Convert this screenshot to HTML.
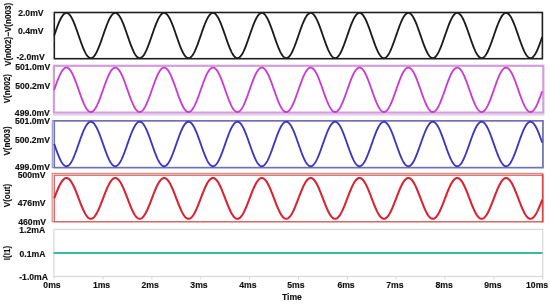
<!DOCTYPE html>
<html><head><meta charset="utf-8"><style>
html,body{margin:0;padding:0;background:#fff;width:550px;height:304px;overflow:hidden}
svg{display:block}
.t{font-family:"Liberation Sans",Arial,sans-serif;font-weight:bold;font-size:8.65px;fill:#111;stroke:#111;stroke-width:0.15px}
.r{font-size:8.65px}
</style></head><body>
<svg width="550" height="304" viewBox="0 0 550 304">
<rect width="550" height="304" fill="#fff"/>
<g>
<rect x="54.3" y="12.5" width="488.1" height="46.2" fill="none" stroke="#1e1e1e" stroke-width="1.6"/>
<rect x="53.9" y="65.8" width="489.4" height="46.8" fill="none" stroke="#d49ddc" stroke-width="2.2"/>
<line x1="53" y1="114.8" x2="544.5" y2="114.8" stroke="#dcc2e6" stroke-width="1.2"/>
<rect x="52.3" y="120.8" width="490.6" height="46.8" fill="none" stroke="#9a9ad0" stroke-width="1.2"/>
<rect x="54.3" y="120.8" width="488.6" height="46.8" fill="none" stroke="#7070b4" stroke-width="1.6"/>
<rect x="52.2" y="173.4" width="490.5" height="48.3" fill="none" stroke="#dc8a8a" stroke-width="1.2"/>
<rect x="54.3" y="175.2" width="488.4" height="46.5" fill="none" stroke="#d86a6a" stroke-width="1.4"/>
<line x1="542.6" y1="174" x2="542.6" y2="222.4" stroke="#d84444" stroke-width="1.5"/>
<rect x="53.9" y="229.4" width="488.8" height="47.1" fill="none" stroke="#dadada" stroke-width="1.3"/>
<line x1="51.3" y1="12.50" x2="53.5" y2="12.50" stroke="#e2e2e2" stroke-width="1"/>
<line x1="51.3" y1="21.74" x2="53.5" y2="21.74" stroke="#e2e2e2" stroke-width="1"/>
<line x1="51.3" y1="30.98" x2="53.5" y2="30.98" stroke="#e2e2e2" stroke-width="1"/>
<line x1="51.3" y1="40.22" x2="53.5" y2="40.22" stroke="#e2e2e2" stroke-width="1"/>
<line x1="51.3" y1="49.46" x2="53.5" y2="49.46" stroke="#e2e2e2" stroke-width="1"/>
<line x1="51.3" y1="58.70" x2="53.5" y2="58.70" stroke="#e2e2e2" stroke-width="1"/>
<line x1="54.20" y1="276.5" x2="54.20" y2="279.5" stroke="#d6d6d6" stroke-width="1"/>
<line x1="103.05" y1="276.5" x2="103.05" y2="279.5" stroke="#d6d6d6" stroke-width="1"/>
<line x1="151.90" y1="276.5" x2="151.90" y2="279.5" stroke="#d6d6d6" stroke-width="1"/>
<line x1="200.75" y1="276.5" x2="200.75" y2="279.5" stroke="#d6d6d6" stroke-width="1"/>
<line x1="249.60" y1="276.5" x2="249.60" y2="279.5" stroke="#d6d6d6" stroke-width="1"/>
<line x1="298.45" y1="276.5" x2="298.45" y2="279.5" stroke="#d6d6d6" stroke-width="1"/>
<line x1="347.30" y1="276.5" x2="347.30" y2="279.5" stroke="#d6d6d6" stroke-width="1"/>
<line x1="396.15" y1="276.5" x2="396.15" y2="279.5" stroke="#d6d6d6" stroke-width="1"/>
<line x1="445.00" y1="276.5" x2="445.00" y2="279.5" stroke="#d6d6d6" stroke-width="1"/>
<line x1="493.85" y1="276.5" x2="493.85" y2="279.5" stroke="#d6d6d6" stroke-width="1"/>
<line x1="542.70" y1="276.5" x2="542.70" y2="279.5" stroke="#d6d6d6" stroke-width="1"/>
<path d="M54.20,35.50 L54.70,34.05 L55.20,32.60 L55.70,31.17 L56.20,29.75 L56.70,28.36 L57.20,26.99 L57.70,25.67 L58.20,24.38 L58.70,23.14 L59.20,21.95 L59.70,20.81 L60.20,19.74 L60.70,18.73 L61.20,17.79 L61.70,16.93 L62.20,16.14 L62.70,15.43 L63.20,14.80 L63.70,14.26 L64.20,13.81 L64.70,13.45 L65.20,13.17 L65.70,12.99 L66.20,12.91 L66.70,12.92 L67.20,13.02 L67.70,13.21 L68.20,13.49 L68.70,13.87 L69.20,14.34 L69.70,14.89 L70.20,15.53 L70.70,16.25 L71.20,17.05 L71.70,17.93 L72.20,18.88 L72.70,19.90 L73.20,20.98 L73.70,22.12 L74.20,23.32 L74.70,24.57 L75.20,25.86 L75.70,27.20 L76.20,28.56 L76.70,29.96 L77.20,31.38 L77.70,32.82 L78.20,34.27 L78.70,35.72 L79.20,37.17 L79.70,38.61 L80.20,40.05 L80.70,41.46 L81.20,42.85 L81.70,44.21 L82.20,45.53 L82.70,46.81 L83.20,48.04 L83.70,49.23 L84.20,50.35 L84.70,51.42 L85.20,52.41 L85.70,53.34 L86.20,54.20 L86.70,54.97 L87.20,55.67 L87.70,56.28 L88.20,56.81 L88.70,57.25 L89.20,57.60 L89.70,57.86 L90.20,58.02 L90.70,58.10 L91.20,58.08 L91.70,57.96 L92.20,57.75 L92.70,57.45 L93.20,57.06 L93.70,56.59 L94.20,56.02 L94.70,55.37 L95.20,54.63 L95.70,53.82 L96.20,52.93 L96.70,51.97 L97.20,50.95 L97.70,49.85 L98.20,48.70 L98.70,47.50 L99.20,46.24 L99.70,44.94 L100.20,43.60 L100.70,42.23 L101.20,40.83 L101.70,39.40 L102.20,37.97 L102.70,36.52 L103.20,35.06 L103.70,33.61 L104.20,32.17 L104.70,30.74 L105.20,29.33 L105.70,27.95 L106.20,26.59 L106.70,25.28 L107.20,24.00 L107.70,22.77 L108.20,21.60 L108.70,20.48 L109.20,19.43 L109.70,18.44 L110.20,17.52 L110.70,16.68 L111.20,15.92 L111.70,15.23 L112.20,14.63 L112.70,14.12 L113.20,13.69 L113.70,13.35 L114.20,13.11 L114.70,12.96 L115.20,12.90 L115.70,12.94 L116.20,13.06 L116.70,13.29 L117.20,13.60 L117.70,14.00 L118.20,14.49 L118.70,15.07 L119.20,15.74 L119.70,16.48 L120.20,17.31 L120.70,18.21 L121.20,19.18 L121.70,20.21 L122.20,21.32 L122.70,22.48 L123.20,23.69 L123.70,24.95 L124.20,26.26 L124.70,27.60 L125.20,28.98 L125.70,30.39 L126.20,31.81 L126.70,33.25 L127.20,34.70 L127.70,36.15 L128.20,37.60 L128.70,39.05 L129.20,40.47 L129.70,41.88 L130.20,43.26 L130.70,44.61 L131.20,45.92 L131.70,47.19 L132.20,48.40 L132.70,49.57 L133.20,50.68 L133.70,51.72 L134.20,52.70 L134.70,53.61 L135.20,54.44 L135.70,55.19 L136.20,55.86 L136.70,56.45 L137.20,56.95 L137.70,57.37 L138.20,57.69 L138.70,57.92 L139.20,58.06 L139.70,58.10 L140.20,58.05 L140.70,57.91 L141.20,57.67 L141.70,57.35 L142.20,56.93 L142.70,56.42 L143.20,55.83 L143.70,55.16 L144.20,54.40 L144.70,53.56 L145.20,52.65 L145.70,51.67 L146.20,50.62 L146.70,49.51 L147.20,48.35 L147.70,47.12 L148.20,45.85 L148.70,44.54 L149.20,43.19 L149.70,41.81 L150.20,40.40 L150.70,38.97 L151.20,37.53 L151.70,36.08 L152.20,34.63 L152.70,33.18 L153.20,31.74 L153.70,30.31 L154.20,28.91 L154.70,27.54 L155.20,26.19 L155.70,24.89 L156.20,23.63 L156.70,22.42 L157.20,21.26 L157.70,20.16 L158.20,19.13 L158.70,18.16 L159.20,17.26 L159.70,16.44 L160.20,15.70 L160.70,15.04 L161.20,14.47 L161.70,13.98 L162.20,13.58 L162.70,13.27 L163.20,13.06 L163.70,12.93 L164.20,12.90 L164.70,12.96 L165.20,13.12 L165.70,13.37 L166.20,13.71 L166.70,14.14 L167.20,14.66 L167.70,15.26 L168.20,15.95 L168.70,16.72 L169.20,17.57 L169.70,18.49 L170.20,19.48 L170.70,20.54 L171.20,21.66 L171.70,22.83 L172.20,24.06 L172.70,25.34 L173.20,26.66 L173.70,28.01 L174.20,29.40 L174.70,30.81 L175.20,32.24 L175.70,33.69 L176.20,35.14 L176.70,36.59 L177.20,38.04 L177.70,39.48 L178.20,40.90 L178.70,42.30 L179.20,43.67 L179.70,45.01 L180.20,46.30 L180.70,47.56 L181.20,48.76 L181.70,49.91 L182.20,51.00 L182.70,52.02 L183.20,52.98 L183.70,53.86 L184.20,54.67 L184.70,55.40 L185.20,56.05 L185.70,56.61 L186.20,57.09 L186.70,57.47 L187.20,57.77 L187.70,57.97 L188.20,58.08 L188.70,58.10 L189.20,58.02 L189.70,57.85 L190.20,57.59 L190.70,57.23 L191.20,56.79 L191.70,56.26 L192.20,55.64 L192.70,54.94 L193.20,54.16 L193.70,53.30 L194.20,52.37 L194.70,51.36 L195.20,50.30 L195.70,49.17 L196.20,47.98 L196.70,46.75 L197.20,45.46 L197.70,44.14 L198.20,42.78 L198.70,41.39 L199.20,39.98 L199.70,38.54 L200.20,37.10 L200.70,35.65 L201.20,34.19 L201.70,32.75 L202.20,31.31 L202.70,29.89 L203.20,28.50 L203.70,27.13 L204.20,25.80 L204.70,24.51 L205.20,23.26 L205.70,22.06 L206.20,20.92 L206.70,19.84 L207.20,18.83 L207.70,17.88 L208.20,17.01 L208.70,16.21 L209.20,15.50 L209.70,14.86 L210.20,14.31 L210.70,13.85 L211.20,13.48 L211.70,13.20 L212.20,13.01 L212.70,12.91 L213.20,12.91 L213.70,13.00 L214.20,13.19 L214.70,13.46 L215.20,13.83 L215.70,14.29 L216.20,14.83 L216.70,15.46 L217.20,16.17 L217.70,16.97 L218.20,17.84 L218.70,18.78 L219.20,19.79 L219.70,20.87 L220.20,22.01 L220.70,23.20 L221.20,24.44 L221.70,25.73 L222.20,27.06 L222.70,28.43 L223.20,29.82 L223.70,31.24 L224.20,32.67 L224.70,34.12 L225.20,35.57 L225.70,37.02 L226.20,38.47 L226.70,39.90 L227.20,41.32 L227.70,42.71 L228.20,44.07 L228.70,45.40 L229.20,46.68 L229.70,47.92 L230.20,49.11 L230.70,50.24 L231.20,51.31 L231.70,52.32 L232.20,53.25 L232.70,54.12 L233.20,54.90 L233.70,55.61 L234.20,56.23 L234.70,56.76 L235.20,57.21 L235.70,57.57 L236.20,57.84 L236.70,58.01 L237.20,58.09 L237.70,58.08 L238.20,57.98 L238.70,57.78 L239.20,57.49 L239.70,57.11 L240.20,56.64 L240.70,56.08 L241.20,55.44 L241.70,54.71 L242.20,53.91 L242.70,53.03 L243.20,52.07 L243.70,51.05 L244.20,49.97 L244.70,48.82 L245.20,47.62 L245.70,46.37 L246.20,45.07 L246.70,43.74 L247.20,42.37 L247.70,40.97 L248.20,39.55 L248.70,38.11 L249.20,36.66 L249.70,35.21 L250.20,33.76 L250.70,32.31 L251.20,30.88 L251.70,29.47 L252.20,28.08 L252.70,26.73 L253.20,25.41 L253.70,24.13 L254.20,22.90 L254.70,21.72 L255.20,20.59 L255.70,19.53 L256.20,18.54 L256.70,17.61 L257.20,16.76 L257.70,15.99 L258.20,15.30 L258.70,14.69 L259.20,14.16 L259.70,13.73 L260.20,13.38 L260.70,13.13 L261.20,12.97 L261.70,12.90 L262.20,12.93 L262.70,13.05 L263.20,13.26 L263.70,13.56 L264.20,13.96 L264.70,14.44 L265.20,15.01 L265.70,15.67 L266.20,16.40 L266.70,17.22 L267.20,18.11 L267.70,19.08 L268.20,20.11 L268.70,21.20 L269.20,22.36 L269.70,23.57 L270.20,24.82 L270.70,26.13 L271.20,27.47 L271.70,28.84 L272.20,30.24 L272.70,31.67 L273.20,33.11 L273.70,34.56 L274.20,36.01 L274.70,37.46 L275.20,38.90 L275.70,40.33 L276.20,41.74 L276.70,43.12 L277.20,44.47 L277.70,45.79 L278.20,47.06 L278.70,48.29 L279.20,49.46 L279.70,50.57 L280.20,51.62 L280.70,52.61 L281.20,53.52 L281.70,54.36 L282.20,55.12 L282.70,55.80 L283.20,56.40 L283.70,56.91 L284.20,57.33 L284.70,57.66 L285.20,57.90 L285.70,58.05 L286.20,58.10 L286.70,58.06 L287.20,57.93 L287.70,57.70 L288.20,57.38 L288.70,56.98 L289.20,56.48 L289.70,55.90 L290.20,55.23 L290.70,54.48 L291.20,53.65 L291.70,52.75 L292.20,51.77 L292.70,50.73 L293.20,49.63 L293.70,48.46 L294.20,47.25 L294.70,45.98 L295.20,44.67 L295.70,43.33 L296.20,41.95 L296.70,40.54 L297.20,39.12 L297.70,37.68 L298.20,36.23 L298.70,34.77 L299.20,33.32 L299.70,31.88 L300.20,30.46 L300.70,29.05 L301.20,27.67 L301.70,26.33 L302.20,25.02 L302.70,23.75 L303.20,22.54 L303.70,21.37 L304.20,20.27 L304.70,19.23 L305.20,18.25 L305.70,17.35 L306.20,16.52 L306.70,15.77 L307.20,15.10 L307.70,14.52 L308.20,14.02 L308.70,13.62 L309.20,13.30 L309.70,13.07 L310.20,12.94 L310.70,12.90 L311.20,12.95 L311.70,13.10 L312.20,13.34 L312.70,13.67 L313.20,14.09 L313.70,14.60 L314.20,15.20 L314.70,15.88 L315.20,16.64 L315.70,17.48 L316.20,18.39 L316.70,19.38 L317.20,20.43 L317.70,21.54 L318.20,22.71 L318.70,23.94 L319.20,25.21 L319.70,26.53 L320.20,27.88 L320.70,29.26 L321.20,30.67 L321.70,32.10 L322.20,33.54 L322.70,34.99 L323.20,36.44 L323.70,37.89 L324.20,39.33 L324.70,40.76 L325.20,42.16 L325.70,43.53 L326.20,44.87 L326.70,46.18 L327.20,47.43 L327.70,48.64 L328.20,49.80 L328.70,50.89 L329.20,51.92 L329.70,52.89 L330.20,53.78 L330.70,54.60 L331.20,55.33 L331.70,55.99 L332.20,56.56 L332.70,57.04 L333.20,57.44 L333.70,57.74 L334.20,57.95 L334.70,58.07 L335.20,58.10 L335.70,58.03 L336.20,57.87 L336.70,57.62 L337.20,57.27 L337.70,56.84 L338.20,56.31 L338.70,55.70 L339.20,55.01 L339.70,54.24 L340.20,53.39 L340.70,52.46 L341.20,51.47 L341.70,50.41 L342.20,49.28 L342.70,48.10 L343.20,46.87 L343.70,45.59 L344.20,44.27 L344.70,42.92 L345.20,41.53 L345.70,40.12 L346.20,38.69 L346.70,37.24 L347.20,35.79 L347.70,34.34 L348.20,32.89 L348.70,31.45 L349.20,30.03 L349.70,28.63 L350.20,27.26 L350.70,25.93 L351.20,24.63 L351.70,23.38 L352.20,22.18 L352.70,21.03 L353.20,19.95 L353.70,18.93 L354.20,17.97 L354.70,17.09 L355.20,16.29 L355.70,15.56 L356.20,14.92 L356.70,14.36 L357.20,13.89 L357.70,13.51 L358.20,13.22 L358.70,13.02 L359.20,12.92 L359.70,12.91 L360.20,12.99 L360.70,13.16 L361.20,13.43 L361.70,13.79 L362.20,14.24 L362.70,14.77 L363.20,15.39 L363.70,16.10 L364.20,16.88 L364.70,17.75 L365.20,18.68 L365.70,19.69 L366.20,20.76 L366.70,21.89 L367.20,23.08 L367.70,24.32 L368.20,25.60 L368.70,26.93 L369.20,28.29 L369.70,29.68 L370.20,31.10 L370.70,32.53 L371.20,33.98 L371.70,35.43 L372.20,36.88 L372.70,38.33 L373.20,39.76 L373.70,41.18 L374.20,42.57 L374.70,43.94 L375.20,45.27 L375.70,46.56 L376.20,47.80 L376.70,48.99 L377.20,50.13 L377.70,51.21 L378.20,52.22 L378.70,53.16 L379.20,54.03 L379.70,54.83 L380.20,55.54 L380.70,56.17 L381.20,56.71 L381.70,57.17 L382.20,57.54 L382.70,57.81 L383.20,58.00 L383.70,58.09 L384.20,58.09 L384.70,57.99 L385.20,57.80 L385.70,57.52 L386.20,57.15 L386.70,56.69 L387.20,56.14 L387.70,55.50 L388.20,54.79 L388.70,53.99 L389.20,53.12 L389.70,52.17 L390.20,51.16 L390.70,50.08 L391.20,48.94 L391.70,47.74 L392.20,46.49 L392.70,45.20 L393.20,43.87 L393.70,42.50 L394.20,41.11 L394.70,39.69 L395.20,38.25 L395.70,36.81 L396.20,35.35 L396.70,33.90 L397.20,32.46 L397.70,31.02 L398.20,29.61 L398.70,28.22 L399.20,26.86 L399.70,25.54 L400.20,24.25 L400.70,23.02 L401.20,21.83 L401.70,20.70 L402.20,19.64 L402.70,18.63 L403.20,17.70 L403.70,16.84 L404.20,16.06 L404.70,15.36 L405.20,14.74 L405.70,14.21 L406.20,13.77 L406.70,13.41 L407.20,13.15 L407.70,12.98 L408.20,12.90 L408.70,12.92 L409.20,13.03 L409.70,13.23 L410.20,13.53 L410.70,13.91 L411.20,14.39 L411.70,14.95 L412.20,15.60 L412.70,16.33 L413.20,17.14 L413.70,18.02 L414.20,18.98 L414.70,20.00 L415.20,21.09 L415.70,22.24 L416.20,23.44 L416.70,24.70 L417.20,25.99 L417.70,27.33 L418.20,28.70 L418.70,30.10 L419.20,31.52 L419.70,32.96 L420.20,34.41 L420.70,35.86 L421.20,37.31 L421.70,38.76 L422.20,40.19 L422.70,41.60 L423.20,42.99 L423.70,44.34 L424.20,45.66 L424.70,46.94 L425.20,48.17 L425.70,49.34 L426.20,50.46 L426.70,51.52 L427.20,52.51 L427.70,53.43 L428.20,54.28 L428.70,55.05 L429.20,55.74 L429.70,56.34 L430.20,56.86 L430.70,57.29 L431.20,57.63 L431.70,57.88 L432.20,58.04 L432.70,58.10 L433.20,58.07 L433.70,57.94 L434.20,57.73 L434.70,57.42 L435.20,57.02 L435.70,56.53 L436.20,55.96 L436.70,55.30 L437.20,54.56 L437.70,53.74 L438.20,52.84 L438.70,51.87 L439.20,50.84 L439.70,49.74 L440.20,48.58 L440.70,47.37 L441.20,46.11 L441.70,44.81 L442.20,43.46 L442.70,42.09 L443.20,40.69 L443.70,39.26 L444.20,37.82 L444.70,36.37 L445.20,34.92 L445.70,33.47 L446.20,32.03 L446.70,30.60 L447.20,29.19 L447.70,27.81 L448.20,26.46 L448.70,25.15 L449.20,23.88 L449.70,22.65 L450.20,21.49 L450.70,20.38 L451.20,19.33 L451.70,18.35 L452.20,17.44 L452.70,16.60 L453.20,15.84 L453.70,15.17 L454.20,14.58 L454.70,14.07 L455.20,13.65 L455.70,13.33 L456.20,13.09 L456.70,12.95 L457.20,12.90 L457.70,12.94 L458.20,13.08 L458.70,13.31 L459.20,13.63 L459.70,14.05 L460.20,14.55 L460.70,15.14 L461.20,15.81 L461.70,16.56 L462.20,17.39 L462.70,18.30 L463.20,19.28 L463.70,20.32 L464.20,21.43 L464.70,22.60 L465.20,23.81 L465.70,25.08 L466.20,26.39 L466.70,27.74 L467.20,29.12 L467.70,30.53 L468.20,31.95 L468.70,33.40 L469.20,34.85 L469.70,36.30 L470.20,37.75 L470.70,39.19 L471.20,40.61 L471.70,42.02 L472.20,43.40 L472.70,44.74 L473.20,46.05 L473.70,47.31 L474.20,48.52 L474.70,49.68 L475.20,50.79 L475.70,51.82 L476.20,52.79 L476.70,53.69 L477.20,54.52 L477.70,55.26 L478.20,55.93 L478.70,56.51 L479.20,57.00 L479.70,57.40 L480.20,57.71 L480.70,57.94 L481.20,58.06 L481.70,58.10 L482.20,58.04 L482.70,57.89 L483.20,57.65 L483.70,57.31 L484.20,56.88 L484.70,56.37 L485.20,55.77 L485.70,55.08 L486.20,54.32 L486.70,53.48 L487.20,52.56 L487.70,51.57 L488.20,50.52 L488.70,49.40 L489.20,48.23 L489.70,47.00 L490.20,45.72 L490.70,44.41 L491.20,43.05 L491.70,41.67 L492.20,40.26 L492.70,38.83 L493.20,37.39 L493.70,35.94 L494.20,34.48 L494.70,33.03 L495.20,31.60 L495.70,30.17 L496.20,28.77 L496.70,27.40 L497.20,26.06 L497.70,24.76 L498.20,23.50 L498.70,22.30 L499.20,21.15 L499.70,20.05 L500.20,19.03 L500.70,18.07 L501.20,17.18 L501.70,16.37 L502.20,15.63 L502.70,14.98 L503.20,14.41 L503.70,13.94 L504.20,13.55 L504.70,13.25 L505.20,13.04 L505.70,12.92 L506.20,12.90 L506.70,12.98 L507.20,13.14 L507.70,13.40 L508.20,13.75 L508.70,14.19 L509.20,14.72 L509.70,15.33 L510.20,16.03 L510.70,16.80 L511.20,17.66 L511.70,18.59 L512.20,19.58 L512.70,20.65 L513.20,21.77 L513.70,22.96 L514.20,24.19 L514.70,25.47 L515.20,26.79 L515.70,28.15 L516.20,29.54 L516.70,30.95 L517.20,32.39 L517.70,33.83 L518.20,35.28 L518.70,36.73 L519.20,38.18 L519.70,39.62 L520.20,41.04 L520.70,42.44 L521.20,43.80 L521.70,45.14 L522.20,46.43 L522.70,47.68 L523.20,48.88 L523.70,50.02 L524.20,51.10 L524.70,52.12 L525.20,53.07 L525.70,53.95 L526.20,54.75 L526.70,55.47 L527.20,56.11 L527.70,56.66 L528.20,57.13 L528.70,57.51 L529.20,57.79 L529.70,57.98 L530.20,58.08 L530.70,58.09 L531.20,58.01 L531.70,57.83 L532.20,57.55 L532.70,57.19 L533.20,56.74 L533.70,56.20 L534.20,55.57 L534.70,54.86 L535.20,54.07 L535.70,53.21 L536.20,52.27 L536.70,51.26 L537.20,50.19 L537.70,49.05 L538.20,47.86 L538.70,46.62 L539.20,45.33 L539.70,44.01 L540.20,42.64 L540.70,41.25 L541.20,39.83 L541.70,38.40 L542.20,36.95" fill="none" stroke="#1c1c1c" stroke-width="1.85"/>
<path d="M54.20,89.80 L54.70,88.37 L55.20,86.95 L55.70,85.54 L56.20,84.15 L56.70,82.78 L57.20,81.44 L57.70,80.14 L58.20,78.88 L58.70,77.66 L59.20,76.49 L59.70,75.37 L60.20,74.32 L60.70,73.33 L61.20,72.41 L61.70,71.55 L62.20,70.78 L62.70,70.08 L63.20,69.47 L63.70,68.94 L64.20,68.49 L64.70,68.14 L65.20,67.87 L65.70,67.69 L66.20,67.61 L66.70,67.62 L67.20,67.71 L67.70,67.90 L68.20,68.18 L68.70,68.55 L69.20,69.01 L69.70,69.56 L70.20,70.18 L70.70,70.89 L71.20,71.68 L71.70,72.54 L72.20,73.47 L72.70,74.47 L73.20,75.54 L73.70,76.66 L74.20,77.84 L74.70,79.06 L75.20,80.33 L75.70,81.64 L76.20,82.99 L76.70,84.36 L77.20,85.75 L77.70,87.16 L78.20,88.59 L78.70,90.01 L79.20,91.44 L79.70,92.86 L80.20,94.27 L80.70,95.65 L81.20,97.02 L81.70,98.35 L82.20,99.65 L82.70,100.91 L83.20,102.12 L83.70,103.28 L84.20,104.39 L84.70,105.43 L85.20,106.42 L85.70,107.33 L86.20,108.17 L86.70,108.93 L87.20,109.61 L87.70,110.22 L88.20,110.73 L88.70,111.17 L89.20,111.51 L89.70,111.76 L90.20,111.93 L90.70,112.00 L91.20,111.98 L91.70,111.86 L92.20,111.66 L92.70,111.37 L93.20,110.98 L93.70,110.51 L94.20,109.96 L94.70,109.32 L95.20,108.60 L95.70,107.80 L96.20,106.93 L96.70,105.98 L97.20,104.97 L97.70,103.90 L98.20,102.77 L98.70,101.58 L99.20,100.35 L99.70,99.07 L100.20,97.76 L100.70,96.41 L101.20,95.03 L101.70,93.64 L102.20,92.22 L102.70,90.80 L103.20,89.37 L103.70,87.95 L104.20,86.53 L104.70,85.12 L105.20,83.74 L105.70,82.38 L106.20,81.05 L106.70,79.76 L107.20,78.50 L107.70,77.30 L108.20,76.15 L108.70,75.05 L109.20,74.01 L109.70,73.04 L110.20,72.14 L110.70,71.31 L111.20,70.56 L111.70,69.89 L112.20,69.30 L112.70,68.79 L113.20,68.38 L113.70,68.05 L114.20,67.81 L114.70,67.66 L115.20,67.60 L115.70,67.64 L116.20,67.76 L116.70,67.98 L117.20,68.29 L117.70,68.68 L118.20,69.17 L118.70,69.73 L119.20,70.39 L119.70,71.12 L120.20,71.93 L120.70,72.81 L121.20,73.77 L121.70,74.79 L122.20,75.87 L122.70,77.01 L123.20,78.20 L123.70,79.44 L124.20,80.72 L124.70,82.04 L125.20,83.40 L125.70,84.78 L126.20,86.18 L126.70,87.59 L127.20,89.01 L127.70,90.44 L128.20,91.87 L128.70,93.28 L129.20,94.69 L129.70,96.07 L130.20,97.42 L130.70,98.75 L131.20,100.03 L131.70,101.28 L132.20,102.48 L132.70,103.62 L133.20,104.71 L133.70,105.74 L134.20,106.70 L134.70,107.59 L135.20,108.40 L135.70,109.14 L136.20,109.80 L136.70,110.38 L137.20,110.87 L137.70,111.28 L138.20,111.59 L138.70,111.82 L139.20,111.96 L139.70,112.00 L140.20,111.95 L140.70,111.81 L141.20,111.58 L141.70,111.26 L142.20,110.85 L142.70,110.35 L143.20,109.77 L143.70,109.11 L144.20,108.36 L144.70,107.54 L145.20,106.65 L145.70,105.69 L146.20,104.66 L146.70,103.57 L147.20,102.42 L147.70,101.22 L148.20,99.97 L148.70,98.68 L149.20,97.36 L149.70,96.00 L150.20,94.62 L150.70,93.21 L151.20,91.80 L151.70,90.37 L152.20,88.94 L152.70,87.52 L153.20,86.11 L153.70,84.71 L154.20,83.33 L154.70,81.98 L155.20,80.66 L155.70,79.38 L156.20,78.14 L156.70,76.95 L157.20,75.81 L157.70,74.73 L158.20,73.72 L158.70,72.77 L159.20,71.89 L159.70,71.08 L160.20,70.35 L160.70,69.70 L161.20,69.14 L161.70,68.66 L162.20,68.27 L162.70,67.97 L163.20,67.75 L163.70,67.63 L164.20,67.60 L164.70,67.66 L165.20,67.82 L165.70,68.06 L166.20,68.40 L166.70,68.82 L167.20,69.33 L167.70,69.92 L168.20,70.60 L168.70,71.35 L169.20,72.19 L169.70,73.09 L170.20,74.06 L170.70,75.10 L171.20,76.20 L171.70,77.36 L172.20,78.57 L172.70,79.82 L173.20,81.12 L173.70,82.45 L174.20,83.81 L174.70,85.19 L175.20,86.60 L175.70,88.02 L176.20,89.44 L176.70,90.87 L177.20,92.29 L177.70,93.71 L178.20,95.10 L178.70,96.48 L179.20,97.82 L179.70,99.14 L180.20,100.41 L180.70,101.64 L181.20,102.83 L181.70,103.95 L182.20,105.02 L182.70,106.03 L183.20,106.97 L183.70,107.84 L184.20,108.63 L184.70,109.35 L185.20,109.99 L185.70,110.54 L186.20,111.00 L186.70,111.38 L187.20,111.67 L187.70,111.87 L188.20,111.98 L188.70,112.00 L189.20,111.92 L189.70,111.75 L190.20,111.49 L190.70,111.15 L191.20,110.71 L191.70,110.19 L192.20,109.58 L192.70,108.89 L193.20,108.13 L193.70,107.28 L194.20,106.37 L194.70,105.38 L195.20,104.34 L195.70,103.23 L196.20,102.06 L196.70,100.85 L197.20,99.59 L197.70,98.29 L198.20,96.95 L198.70,95.59 L199.20,94.20 L199.70,92.79 L200.20,91.37 L200.70,89.94 L201.20,88.52 L201.70,87.09 L202.20,85.68 L202.70,84.29 L203.20,82.92 L203.70,81.58 L204.20,80.27 L204.70,79.00 L205.20,77.78 L205.70,76.60 L206.20,75.48 L206.70,74.42 L207.20,73.42 L207.70,72.49 L208.20,71.64 L208.70,70.85 L209.20,70.15 L209.70,69.53 L210.20,68.99 L210.70,68.53 L211.20,68.17 L211.70,67.89 L212.20,67.71 L212.70,67.61 L213.20,67.61 L213.70,67.70 L214.20,67.88 L214.70,68.15 L215.20,68.51 L215.70,68.96 L216.20,69.50 L216.70,70.12 L217.20,70.82 L217.70,71.60 L218.20,72.45 L218.70,73.38 L219.20,74.37 L219.70,75.43 L220.20,76.54 L220.70,77.72 L221.20,78.94 L221.70,80.20 L222.20,81.51 L222.70,82.85 L223.20,84.22 L223.70,85.61 L224.20,87.02 L224.70,88.44 L225.20,89.87 L225.70,91.30 L226.20,92.72 L226.70,94.13 L227.20,95.52 L227.70,96.88 L228.20,98.22 L228.70,99.52 L229.20,100.79 L229.70,102.00 L230.20,103.17 L230.70,104.28 L231.20,105.33 L231.70,106.32 L232.20,107.24 L232.70,108.09 L233.20,108.86 L233.70,109.55 L234.20,110.16 L234.70,110.69 L235.20,111.13 L235.70,111.48 L236.20,111.74 L236.70,111.91 L237.20,111.99 L237.70,111.98 L238.20,111.88 L238.70,111.68 L239.20,111.40 L239.70,111.03 L240.20,110.56 L240.70,110.02 L241.20,109.38 L241.70,108.67 L242.20,107.88 L242.70,107.02 L243.20,106.08 L243.70,105.08 L244.20,104.01 L244.70,102.88 L245.20,101.70 L245.70,100.47 L246.20,99.20 L246.70,97.89 L247.20,96.54 L247.70,95.17 L248.20,93.78 L248.70,92.36 L249.20,90.94 L249.70,89.51 L250.20,88.09 L250.70,86.67 L251.20,85.26 L251.70,83.88 L252.20,82.51 L252.70,81.18 L253.20,79.88 L253.70,78.63 L254.20,77.42 L254.70,76.26 L255.20,75.16 L255.70,74.11 L256.20,73.14 L256.70,72.23 L257.20,71.39 L257.70,70.63 L258.20,69.95 L258.70,69.36 L259.20,68.84 L259.70,68.41 L260.20,68.08 L260.70,67.83 L261.20,67.67 L261.70,67.60 L262.20,67.63 L262.70,67.74 L263.20,67.95 L263.70,68.25 L264.20,68.64 L264.70,69.11 L265.20,69.67 L265.70,70.32 L266.20,71.04 L266.70,71.84 L267.20,72.72 L267.70,73.67 L268.20,74.68 L268.70,75.76 L269.20,76.89 L269.70,78.08 L270.20,79.31 L270.70,80.59 L271.20,81.91 L271.70,83.26 L272.20,84.64 L272.70,86.03 L273.20,87.45 L273.70,88.87 L274.20,90.30 L274.70,91.72 L275.20,93.14 L275.70,94.55 L276.20,95.93 L276.70,97.29 L277.20,98.62 L277.70,99.91 L278.20,101.16 L278.70,102.36 L279.20,103.51 L279.70,104.60 L280.20,105.64 L280.70,106.60 L281.20,107.50 L281.70,108.33 L282.20,109.07 L282.70,109.74 L283.20,110.33 L283.70,110.83 L284.20,111.24 L284.70,111.57 L285.20,111.80 L285.70,111.95 L286.20,112.00 L286.70,111.96 L287.20,111.83 L287.70,111.61 L288.20,111.30 L288.70,110.90 L289.20,110.41 L289.70,109.83 L290.20,109.18 L290.70,108.44 L291.20,107.63 L291.70,106.74 L292.20,105.79 L292.70,104.76 L293.20,103.68 L293.70,102.54 L294.20,101.34 L294.70,100.10 L295.20,98.81 L295.70,97.49 L296.20,96.14 L296.70,94.75 L297.20,93.35 L297.70,91.94 L298.20,90.51 L298.70,89.09 L299.20,87.66 L299.70,86.25 L300.20,84.85 L300.70,83.46 L301.20,82.11 L301.70,80.79 L302.20,79.50 L302.70,78.26 L303.20,77.06 L303.70,75.92 L304.20,74.84 L304.70,73.81 L305.20,72.86 L305.70,71.97 L306.20,71.16 L306.70,70.42 L307.20,69.77 L307.70,69.19 L308.20,68.70 L308.70,68.30 L309.20,67.99 L309.70,67.77 L310.20,67.64 L310.70,67.60 L311.20,67.65 L311.70,67.80 L312.20,68.03 L312.70,68.36 L313.20,68.77 L313.70,69.27 L314.20,69.86 L314.70,70.53 L315.20,71.27 L315.70,72.10 L316.20,73.00 L316.70,73.96 L317.20,75.00 L317.70,76.09 L318.20,77.24 L318.70,78.44 L319.20,79.69 L319.70,80.98 L320.20,82.31 L320.70,83.67 L321.20,85.05 L321.70,86.46 L322.20,87.88 L322.70,89.30 L323.20,90.73 L323.70,92.15 L324.20,93.57 L324.70,94.96 L325.20,96.34 L325.70,97.69 L326.20,99.01 L326.70,100.29 L327.20,101.52 L327.70,102.71 L328.20,103.84 L328.70,104.92 L329.20,105.93 L329.70,106.88 L330.20,107.76 L330.70,108.56 L331.20,109.28 L331.70,109.93 L332.20,110.49 L332.70,110.96 L333.20,111.35 L333.70,111.65 L334.20,111.86 L334.70,111.97 L335.20,112.00 L335.70,111.93 L336.20,111.77 L336.70,111.52 L337.20,111.19 L337.70,110.76 L338.20,110.24 L338.70,109.65 L339.20,108.97 L339.70,108.21 L340.20,107.37 L340.70,106.46 L341.20,105.49 L341.70,104.44 L342.20,103.34 L342.70,102.18 L343.20,100.97 L343.70,99.72 L344.20,98.42 L344.70,97.09 L345.20,95.72 L345.70,94.34 L346.20,92.93 L346.70,91.51 L347.20,90.09 L347.70,88.66 L348.20,87.24 L348.70,85.82 L349.20,84.43 L349.70,83.06 L350.20,81.71 L350.70,80.40 L351.20,79.13 L351.70,77.90 L352.20,76.72 L352.70,75.59 L353.20,74.52 L353.70,73.52 L354.20,72.58 L354.70,71.72 L355.20,70.93 L355.70,70.22 L356.20,69.58 L356.70,69.04 L357.20,68.57 L357.70,68.20 L358.20,67.92 L358.70,67.72 L359.20,67.62 L359.70,67.61 L360.20,67.69 L360.70,67.86 L361.20,68.12 L361.70,68.47 L362.20,68.91 L362.70,69.44 L363.20,70.05 L363.70,70.74 L364.20,71.51 L364.70,72.36 L365.20,73.28 L365.70,74.27 L366.20,75.32 L366.70,76.43 L367.20,77.60 L367.70,78.81 L368.20,80.08 L368.70,81.38 L369.20,82.72 L369.70,84.08 L370.20,85.47 L370.70,86.88 L371.20,88.30 L371.70,89.73 L372.20,91.16 L372.70,92.58 L373.20,93.99 L373.70,95.38 L374.20,96.75 L374.70,98.09 L375.20,99.40 L375.70,100.66 L376.20,101.88 L376.70,103.06 L377.20,104.17 L377.70,105.23 L378.20,106.22 L378.70,107.15 L379.20,108.00 L379.70,108.78 L380.20,109.48 L380.70,110.10 L381.20,110.64 L381.70,111.09 L382.20,111.45 L382.70,111.72 L383.20,111.90 L383.70,111.99 L384.20,111.99 L384.70,111.89 L385.20,111.71 L385.70,111.43 L386.20,111.07 L386.70,110.61 L387.20,110.07 L387.70,109.45 L388.20,108.75 L388.70,107.96 L389.20,107.11 L389.70,106.18 L390.20,105.18 L390.70,104.12 L391.20,103.00 L391.70,101.82 L392.20,100.60 L392.70,99.33 L393.20,98.02 L393.70,96.68 L394.20,95.31 L394.70,93.92 L395.20,92.51 L395.70,91.08 L396.20,89.66 L396.70,88.23 L397.20,86.81 L397.70,85.40 L398.20,84.01 L398.70,82.65 L399.20,81.31 L399.70,80.01 L400.20,78.75 L400.70,77.54 L401.20,76.37 L401.70,75.26 L402.20,74.22 L402.70,73.23 L403.20,72.32 L403.70,71.47 L404.20,70.71 L404.70,70.02 L405.20,69.41 L405.70,68.89 L406.20,68.45 L406.70,68.11 L407.20,67.85 L407.70,67.68 L408.20,67.60 L408.70,67.62 L409.20,67.73 L409.70,67.93 L410.20,68.22 L410.70,68.60 L411.20,69.06 L411.70,69.61 L412.20,70.25 L412.70,70.97 L413.20,71.76 L413.70,72.63 L414.20,73.57 L414.70,74.58 L415.20,75.65 L415.70,76.77 L416.20,77.96 L416.70,79.19 L417.20,80.46 L417.70,81.78 L418.20,83.12 L418.70,84.50 L419.20,85.89 L419.70,87.31 L420.20,88.73 L420.70,90.16 L421.20,91.58 L421.70,93.00 L422.20,94.41 L422.70,95.79 L423.20,97.15 L423.70,98.48 L424.20,99.78 L424.70,101.03 L425.20,102.24 L425.70,103.40 L426.20,104.50 L426.70,105.54 L427.20,106.51 L427.70,107.41 L428.20,108.25 L428.70,109.00 L429.20,109.68 L429.70,110.27 L430.20,110.78 L430.70,111.20 L431.20,111.54 L431.70,111.78 L432.20,111.94 L432.70,112.00 L433.20,111.97 L433.70,111.85 L434.20,111.63 L434.70,111.33 L435.20,110.94 L435.70,110.46 L436.20,109.90 L436.70,109.25 L437.20,108.52 L437.70,107.71 L438.20,106.83 L438.70,105.88 L439.20,104.87 L439.70,103.79 L440.20,102.65 L440.70,101.46 L441.20,100.22 L441.70,98.94 L442.20,97.62 L442.70,96.27 L443.20,94.89 L443.70,93.49 L444.20,92.08 L444.70,90.66 L445.20,89.23 L445.70,87.80 L446.20,86.39 L446.70,84.98 L447.20,83.60 L447.70,82.24 L448.20,80.92 L448.70,79.63 L449.20,78.38 L449.70,77.18 L450.20,76.03 L450.70,74.94 L451.20,73.91 L451.70,72.95 L452.20,72.06 L452.70,71.24 L453.20,70.49 L453.70,69.83 L454.20,69.25 L454.70,68.75 L455.20,68.34 L455.70,68.02 L456.20,67.79 L456.70,67.65 L457.20,67.60 L457.70,67.64 L458.20,67.78 L458.70,68.01 L459.20,68.32 L459.70,68.73 L460.20,69.22 L460.70,69.80 L461.20,70.46 L461.70,71.20 L462.20,72.01 L462.70,72.90 L463.20,73.86 L463.70,74.89 L464.20,75.98 L464.70,77.12 L465.20,78.32 L465.70,79.57 L466.20,80.85 L466.70,82.18 L467.20,83.53 L467.70,84.91 L468.20,86.32 L468.70,87.73 L469.20,89.16 L469.70,90.59 L470.20,92.01 L470.70,93.42 L471.20,94.82 L471.70,96.20 L472.20,97.56 L472.70,98.88 L473.20,100.16 L473.70,101.40 L474.20,102.59 L474.70,103.73 L475.20,104.81 L475.70,105.83 L476.20,106.79 L476.70,107.67 L477.20,108.48 L477.70,109.21 L478.20,109.87 L478.70,110.43 L479.20,110.92 L479.70,111.31 L480.20,111.62 L480.70,111.84 L481.20,111.96 L481.70,112.00 L482.20,111.94 L482.70,111.79 L483.20,111.55 L483.70,111.22 L484.20,110.81 L484.70,110.30 L485.20,109.71 L485.70,109.04 L486.20,108.29 L486.70,107.46 L487.20,106.56 L487.70,105.59 L488.20,104.55 L488.70,103.45 L489.20,102.30 L489.70,101.10 L490.20,99.84 L490.70,98.55 L491.20,97.22 L491.70,95.86 L492.20,94.48 L492.70,93.07 L493.20,91.65 L493.70,90.23 L494.20,88.80 L494.70,87.38 L495.20,85.96 L495.70,84.57 L496.20,83.19 L496.70,81.84 L497.20,80.53 L497.70,79.25 L498.20,78.02 L498.70,76.83 L499.20,75.70 L499.70,74.63 L500.20,73.62 L500.70,72.67 L501.20,71.80 L501.70,71.00 L502.20,70.28 L502.70,69.64 L503.20,69.09 L503.70,68.62 L504.20,68.23 L504.70,67.94 L505.20,67.74 L505.70,67.62 L506.20,67.60 L506.70,67.67 L507.20,67.84 L507.70,68.09 L508.20,68.43 L508.70,68.87 L509.20,69.38 L509.70,69.99 L510.20,70.67 L510.70,71.43 L511.20,72.27 L511.70,73.18 L512.20,74.17 L512.70,75.21 L513.20,76.32 L513.70,77.48 L514.20,78.69 L514.70,79.95 L515.20,81.25 L515.70,82.58 L516.20,83.95 L516.70,85.33 L517.20,86.74 L517.70,88.16 L518.20,89.59 L518.70,91.01 L519.20,92.44 L519.70,93.85 L520.20,95.24 L520.70,96.61 L521.20,97.96 L521.70,99.27 L522.20,100.54 L522.70,101.76 L523.20,102.94 L523.70,104.06 L524.20,105.13 L524.70,106.13 L525.20,107.06 L525.70,107.92 L526.20,108.71 L526.70,109.42 L527.20,110.04 L527.70,110.59 L528.20,111.05 L528.70,111.42 L529.20,111.70 L529.70,111.89 L530.20,111.98 L530.70,111.99 L531.20,111.91 L531.70,111.73 L532.20,111.46 L532.70,111.11 L533.20,110.66 L533.70,110.13 L534.20,109.52 L534.70,108.82 L535.20,108.05 L535.70,107.19 L536.20,106.27 L536.70,105.28 L537.20,104.23 L537.70,103.11 L538.20,101.94 L538.70,100.72 L539.20,99.46 L539.70,98.16 L540.20,96.82 L540.70,95.45 L541.20,94.06 L541.70,92.65 L542.20,91.23" fill="none" stroke="#c83cd0" stroke-width="1.85"/>
<path d="M54.20,144.00 L54.70,145.43 L55.20,146.85 L55.70,148.27 L56.20,149.66 L56.70,151.03 L57.20,152.37 L57.70,153.68 L58.20,154.95 L58.70,156.17 L59.20,157.34 L59.70,158.46 L60.20,159.52 L60.70,160.51 L61.20,161.43 L61.70,162.29 L62.20,163.06 L62.70,163.76 L63.20,164.38 L63.70,164.91 L64.20,165.36 L64.70,165.71 L65.20,165.98 L65.70,166.16 L66.20,166.24 L66.70,166.23 L67.20,166.14 L67.70,165.95 L68.20,165.66 L68.70,165.29 L69.20,164.84 L69.70,164.29 L70.20,163.66 L70.70,162.95 L71.20,162.16 L71.70,161.30 L72.20,160.36 L72.70,159.36 L73.20,158.30 L73.70,157.17 L74.20,155.99 L74.70,154.76 L75.20,153.49 L75.70,152.17 L76.20,150.83 L76.70,149.45 L77.20,148.06 L77.70,146.64 L78.20,145.22 L78.70,143.79 L79.20,142.36 L79.70,140.93 L80.20,139.52 L80.70,138.13 L81.20,136.76 L81.70,135.43 L82.20,134.13 L82.70,132.86 L83.20,131.65 L83.70,130.49 L84.20,129.38 L84.70,128.33 L85.20,127.35 L85.70,126.43 L86.20,125.59 L86.70,124.83 L87.20,124.14 L87.70,123.54 L88.20,123.02 L88.70,122.59 L89.20,122.24 L89.70,121.99 L90.20,121.82 L90.70,121.75 L91.20,121.77 L91.70,121.89 L92.20,122.09 L92.70,122.39 L93.20,122.77 L93.70,123.24 L94.20,123.80 L94.70,124.44 L95.20,125.16 L95.70,125.96 L96.20,126.84 L96.70,127.78 L97.20,128.79 L97.70,129.87 L98.20,131.00 L98.70,132.19 L99.20,133.43 L99.70,134.71 L100.20,136.03 L100.70,137.38 L101.20,138.76 L101.70,140.16 L102.20,141.57 L102.70,143.00 L103.20,144.43 L103.70,145.86 L104.20,147.28 L104.70,148.69 L105.20,150.07 L105.70,151.44 L106.20,152.77 L106.70,154.07 L107.20,155.32 L107.70,156.53 L108.20,157.68 L108.70,158.78 L109.20,159.82 L109.70,160.79 L110.20,161.70 L110.70,162.53 L111.20,163.28 L111.70,163.95 L112.20,164.55 L112.70,165.05 L113.20,165.47 L113.70,165.80 L114.20,166.04 L114.70,166.19 L115.20,166.25 L115.70,166.21 L116.20,166.09 L116.70,165.87 L117.20,165.56 L117.70,165.17 L118.20,164.68 L118.70,164.11 L119.20,163.46 L119.70,162.72 L120.20,161.91 L120.70,161.03 L121.20,160.07 L121.70,159.05 L122.20,157.96 L122.70,156.82 L123.20,155.63 L123.70,154.38 L124.20,153.10 L124.70,151.77 L125.20,150.42 L125.70,149.04 L126.20,147.63 L126.70,146.21 L127.20,144.79 L127.70,143.36 L128.20,141.93 L128.70,140.51 L129.20,139.10 L129.70,137.72 L130.20,136.36 L130.70,135.03 L131.20,133.74 L131.70,132.50 L132.20,131.29 L132.70,130.15 L133.20,129.06 L133.70,128.03 L134.20,127.07 L134.70,126.17 L135.20,125.35 L135.70,124.61 L136.20,123.95 L136.70,123.37 L137.20,122.88 L137.70,122.47 L138.20,122.16 L138.70,121.93 L139.20,121.79 L139.70,121.75 L140.20,121.80 L140.70,121.94 L141.20,122.17 L141.70,122.49 L142.20,122.90 L142.70,123.40 L143.20,123.98 L143.70,124.65 L144.20,125.39 L144.70,126.22 L145.20,127.11 L145.70,128.08 L146.20,129.11 L146.70,130.20 L147.20,131.35 L147.70,132.56 L148.20,133.81 L148.70,135.10 L149.20,136.43 L149.70,137.79 L150.20,139.17 L150.70,140.58 L151.20,142.00 L151.70,143.43 L152.20,144.86 L152.70,146.29 L153.20,147.70 L153.70,149.11 L154.20,150.49 L154.70,151.84 L155.20,153.16 L155.70,154.45 L156.20,155.69 L156.70,156.88 L157.20,158.02 L157.70,159.10 L158.20,160.12 L158.70,161.07 L159.20,161.95 L159.70,162.76 L160.20,163.49 L160.70,164.14 L161.20,164.71 L161.70,165.19 L162.20,165.58 L162.70,165.88 L163.20,166.10 L163.70,166.22 L164.20,166.25 L164.70,166.19 L165.20,166.03 L165.70,165.79 L166.20,165.45 L166.70,165.03 L167.20,164.52 L167.70,163.92 L168.20,163.25 L168.70,162.49 L169.20,161.65 L169.70,160.75 L170.20,159.77 L170.70,158.73 L171.20,157.63 L171.70,156.47 L172.20,155.26 L172.70,154.00 L173.20,152.70 L173.70,151.37 L174.20,150.01 L174.70,148.62 L175.20,147.21 L175.70,145.79 L176.20,144.36 L176.70,142.93 L177.20,141.50 L177.70,140.09 L178.20,138.69 L178.70,137.31 L179.20,135.96 L179.70,134.64 L180.20,133.36 L180.70,132.13 L181.20,130.94 L181.70,129.81 L182.20,128.74 L182.70,127.73 L183.20,126.79 L183.70,125.92 L184.20,125.12 L184.70,124.41 L185.20,123.77 L185.70,123.22 L186.20,122.75 L186.70,122.37 L187.20,122.08 L187.70,121.88 L188.20,121.77 L188.70,121.75 L189.20,121.83 L189.70,122.00 L190.20,122.26 L190.70,122.61 L191.20,123.04 L191.70,123.57 L192.20,124.17 L192.70,124.86 L193.20,125.63 L193.70,126.48 L194.20,127.39 L194.70,128.38 L195.20,129.43 L195.70,130.54 L196.20,131.71 L196.70,132.93 L197.20,134.19 L197.70,135.49 L198.20,136.83 L198.70,138.20 L199.20,139.59 L199.70,141.00 L200.20,142.43 L200.70,143.86 L201.20,145.29 L201.70,146.71 L202.20,148.13 L202.70,149.52 L203.20,150.90 L203.70,152.24 L204.20,153.55 L204.70,154.82 L205.20,156.05 L205.70,157.23 L206.20,158.35 L206.70,159.41 L207.20,160.41 L207.70,161.34 L208.20,162.20 L208.70,162.99 L209.20,163.69 L209.70,164.32 L210.20,164.86 L210.70,165.31 L211.20,165.68 L211.70,165.96 L212.20,166.14 L212.70,166.24 L213.20,166.24 L213.70,166.15 L214.20,165.97 L214.70,165.70 L215.20,165.33 L215.70,164.88 L216.20,164.35 L216.70,163.73 L217.20,163.03 L217.70,162.25 L218.20,161.39 L218.70,160.46 L219.20,159.47 L219.70,158.41 L220.20,157.29 L220.70,156.11 L221.20,154.89 L221.70,153.62 L222.20,152.31 L222.70,150.96 L223.20,149.59 L223.70,148.20 L224.20,146.78 L224.70,145.36 L225.20,143.93 L225.70,142.50 L226.20,141.08 L226.70,139.66 L227.20,138.27 L227.70,136.90 L228.20,135.56 L228.70,134.25 L229.20,132.99 L229.70,131.77 L230.20,130.60 L230.70,129.49 L231.20,128.43 L231.70,127.44 L232.20,126.52 L232.70,125.67 L233.20,124.90 L233.70,124.21 L234.20,123.59 L234.70,123.07 L235.20,122.62 L235.70,122.27 L236.20,122.01 L236.70,121.84 L237.20,121.76 L237.70,121.77 L238.20,121.87 L238.70,122.07 L239.20,122.35 L239.70,122.73 L240.20,123.19 L240.70,123.74 L241.20,124.37 L241.70,125.09 L242.20,125.88 L242.70,126.75 L243.20,127.68 L243.70,128.69 L244.20,129.76 L244.70,130.89 L245.20,132.07 L245.70,133.30 L246.20,134.58 L246.70,135.89 L247.20,137.24 L247.70,138.62 L248.20,140.02 L248.70,141.43 L249.20,142.86 L249.70,144.29 L250.20,145.72 L250.70,147.14 L251.20,148.55 L251.70,149.94 L252.20,151.30 L252.70,152.64 L253.20,153.94 L253.70,155.20 L254.20,156.41 L254.70,157.57 L255.20,158.68 L255.70,159.72 L256.20,160.70 L256.70,161.61 L257.20,162.45 L257.70,163.21 L258.20,163.89 L258.70,164.49 L259.20,165.01 L259.70,165.43 L260.20,165.77 L260.70,166.02 L261.20,166.18 L261.70,166.25 L262.20,166.22 L262.70,166.11 L263.20,165.90 L263.70,165.60 L264.20,165.21 L264.70,164.73 L265.20,164.17 L265.70,163.53 L266.20,162.80 L266.70,162.00 L267.20,161.12 L267.70,160.17 L268.20,159.15 L268.70,158.08 L269.20,156.94 L269.70,155.75 L270.20,154.51 L270.70,153.23 L271.20,151.91 L271.70,150.56 L272.20,149.18 L272.70,147.77 L273.20,146.36 L273.70,144.93 L274.20,143.50 L274.70,142.07 L275.20,140.65 L275.70,139.24 L276.20,137.86 L276.70,136.49 L277.20,135.16 L277.70,133.87 L278.20,132.62 L278.70,131.41 L279.20,130.26 L279.70,129.16 L280.20,128.13 L280.70,127.16 L281.20,126.26 L281.70,125.43 L282.20,124.68 L282.70,124.01 L283.20,123.43 L283.70,122.92 L284.20,122.51 L284.70,122.18 L285.20,121.95 L285.70,121.80 L286.20,121.75 L286.70,121.79 L287.20,121.92 L287.70,122.14 L288.20,122.46 L288.70,122.86 L289.20,123.35 L289.70,123.92 L290.20,124.58 L290.70,125.32 L291.20,126.13 L291.70,127.02 L292.20,127.98 L292.70,129.00 L293.20,130.09 L293.70,131.24 L294.20,132.43 L294.70,133.68 L295.20,134.97 L295.70,136.29 L296.20,137.65 L296.70,139.03 L297.20,140.44 L297.70,141.86 L298.20,143.28 L298.70,144.72 L299.20,146.14 L299.70,147.56 L300.20,148.97 L300.70,150.35 L301.20,151.71 L301.70,153.03 L302.20,154.32 L302.70,155.57 L303.20,156.76 L303.70,157.91 L304.20,159.00 L304.70,160.02 L305.20,160.98 L305.70,161.87 L306.20,162.68 L306.70,163.42 L307.20,164.08 L307.70,164.65 L308.20,165.14 L308.70,165.54 L309.20,165.86 L309.70,166.08 L310.20,166.21 L310.70,166.25 L311.20,166.20 L311.70,166.05 L312.20,165.82 L312.70,165.49 L313.20,165.08 L313.70,164.57 L314.20,163.99 L314.70,163.32 L315.20,162.57 L315.70,161.74 L316.20,160.84 L316.70,159.87 L317.20,158.84 L317.70,157.74 L318.20,156.59 L318.70,155.38 L319.20,154.13 L319.70,152.84 L320.20,151.51 L320.70,150.14 L321.20,148.76 L321.70,147.35 L322.20,145.93 L322.70,144.50 L323.20,143.07 L323.70,141.64 L324.20,140.23 L324.70,138.82 L325.20,137.44 L325.70,136.09 L326.20,134.77 L326.70,133.49 L327.20,132.25 L327.70,131.06 L328.20,129.92 L328.70,128.85 L329.20,127.83 L329.70,126.88 L330.20,126.00 L330.70,125.20 L331.20,124.47 L331.70,123.83 L332.20,123.27 L332.70,122.79 L333.20,122.40 L333.70,122.10 L334.20,121.89 L334.70,121.78 L335.20,121.75 L335.70,121.82 L336.20,121.98 L336.70,122.23 L337.20,122.57 L337.70,122.99 L338.20,123.51 L338.70,124.11 L339.20,124.79 L339.70,125.55 L340.20,126.39 L340.70,127.30 L341.20,128.28 L341.70,129.32 L342.20,130.43 L342.70,131.59 L343.20,132.80 L343.70,134.06 L344.20,135.36 L344.70,136.70 L345.20,138.06 L345.70,139.45 L346.20,140.86 L346.70,142.28 L347.20,143.71 L347.70,145.14 L348.20,146.57 L348.70,147.98 L349.20,149.38 L349.70,150.76 L350.20,152.11 L350.70,153.42 L351.20,154.70 L351.70,155.93 L352.20,157.11 L352.70,158.24 L353.20,159.31 L353.70,160.32 L354.20,161.25 L354.70,162.12 L355.20,162.91 L355.70,163.63 L356.20,164.26 L356.70,164.81 L357.20,165.27 L357.70,165.65 L358.20,165.93 L358.70,166.13 L359.20,166.23 L359.70,166.24 L360.20,166.16 L360.70,165.99 L361.20,165.73 L361.70,165.38 L362.20,164.93 L362.70,164.41 L363.20,163.79 L363.70,163.10 L364.20,162.33 L364.70,161.48 L365.20,160.56 L365.70,159.57 L366.20,158.51 L366.70,157.40 L367.20,156.23 L367.70,155.01 L368.20,153.75 L368.70,152.44 L369.20,151.10 L369.70,149.73 L370.20,148.34 L370.70,146.92 L371.20,145.50 L371.70,144.07 L372.20,142.64 L372.70,141.22 L373.20,139.80 L373.70,138.41 L374.20,137.04 L374.70,135.69 L375.20,134.38 L375.70,133.11 L376.20,131.89 L376.70,130.71 L377.20,129.59 L377.70,128.53 L378.20,127.54 L378.70,126.61 L379.20,125.75 L379.70,124.97 L380.20,124.27 L380.70,123.65 L381.20,123.12 L381.70,122.67 L382.20,122.30 L382.70,122.03 L383.20,121.85 L383.70,121.76 L384.20,121.76 L384.70,121.86 L385.20,122.04 L385.70,122.32 L386.20,122.69 L386.70,123.14 L387.20,123.68 L387.70,124.31 L388.20,125.01 L388.70,125.80 L389.20,126.66 L389.70,127.59 L390.20,128.59 L390.70,129.65 L391.20,130.77 L391.70,131.95 L392.20,133.18 L392.70,134.45 L393.20,135.76 L393.70,137.10 L394.20,138.48 L394.70,139.87 L395.20,141.29 L395.70,142.71 L396.20,144.14 L396.70,145.57 L397.20,147.00 L397.70,148.41 L398.20,149.80 L398.70,151.17 L399.20,152.51 L399.70,153.81 L400.20,155.07 L400.70,156.29 L401.20,157.46 L401.70,158.57 L402.20,159.62 L402.70,160.61 L403.20,161.52 L403.70,162.37 L404.20,163.14 L404.70,163.83 L405.20,164.43 L405.70,164.96 L406.20,165.39 L406.70,165.74 L407.20,166.00 L407.70,166.17 L408.20,166.25 L408.70,166.23 L409.20,166.12 L409.70,165.92 L410.20,165.63 L410.70,165.25 L411.20,164.78 L411.70,164.23 L412.20,163.59 L412.70,162.88 L413.20,162.08 L413.70,161.21 L414.20,160.27 L414.70,159.26 L415.20,158.19 L415.70,157.06 L416.20,155.87 L416.70,154.64 L417.20,153.36 L417.70,152.04 L418.20,150.69 L418.70,149.31 L419.20,147.91 L419.70,146.50 L420.20,145.07 L420.70,143.64 L421.20,142.21 L421.70,140.79 L422.20,139.38 L422.70,137.99 L423.20,136.63 L423.70,135.30 L424.20,134.00 L424.70,132.74 L425.20,131.53 L425.70,130.37 L426.20,129.27 L426.70,128.23 L427.20,127.25 L427.70,126.35 L428.20,125.51 L428.70,124.75 L429.20,124.08 L429.70,123.48 L430.20,122.97 L430.70,122.55 L431.20,122.21 L431.70,121.97 L432.20,121.81 L432.70,121.75 L433.20,121.78 L433.70,121.90 L434.20,122.12 L434.70,122.42 L435.20,122.81 L435.70,123.29 L436.20,123.86 L436.70,124.51 L437.20,125.24 L437.70,126.05 L438.20,126.93 L438.70,127.88 L439.20,128.90 L439.70,129.98 L440.20,131.12 L440.70,132.31 L441.20,133.55 L441.70,134.84 L442.20,136.16 L442.70,137.51 L443.20,138.89 L443.70,140.30 L444.20,141.71 L444.70,143.14 L445.20,144.57 L445.70,146.00 L446.20,147.42 L446.70,148.83 L447.20,150.21 L447.70,151.57 L448.20,152.90 L448.70,154.19 L449.20,155.44 L449.70,156.65 L450.20,157.80 L450.70,158.89 L451.20,159.92 L451.70,160.89 L452.20,161.78 L452.70,162.61 L453.20,163.35 L453.70,164.02 L454.20,164.60 L454.70,165.10 L455.20,165.51 L455.70,165.83 L456.20,166.06 L456.70,166.20 L457.20,166.25 L457.70,166.21 L458.20,166.07 L458.70,165.84 L459.20,165.53 L459.70,165.12 L460.20,164.63 L460.70,164.05 L461.20,163.39 L461.70,162.65 L462.20,161.83 L462.70,160.93 L463.20,159.97 L463.70,158.94 L464.20,157.85 L464.70,156.71 L465.20,155.50 L465.70,154.26 L466.20,152.97 L466.70,151.64 L467.20,150.28 L467.70,148.90 L468.20,147.49 L468.70,146.07 L469.20,144.64 L469.70,143.21 L470.20,141.79 L470.70,140.37 L471.20,138.96 L471.70,137.58 L472.20,136.23 L472.70,134.90 L473.20,133.62 L473.70,132.37 L474.20,131.18 L474.70,130.04 L475.20,128.95 L475.70,127.93 L476.20,126.97 L476.70,126.09 L477.20,125.28 L477.70,124.54 L478.20,123.89 L478.70,123.32 L479.20,122.83 L479.70,122.44 L480.20,122.13 L480.70,121.91 L481.20,121.79 L481.70,121.75 L482.20,121.81 L482.70,121.96 L483.20,122.20 L483.70,122.53 L484.20,122.95 L484.70,123.45 L485.20,124.05 L485.70,124.72 L486.20,125.47 L486.70,126.30 L487.20,127.21 L487.70,128.18 L488.20,129.22 L488.70,130.32 L489.20,131.47 L489.70,132.68 L490.20,133.93 L490.70,135.23 L491.20,136.56 L491.70,137.93 L492.20,139.31 L492.70,140.72 L493.20,142.14 L493.70,143.57 L494.20,145.00 L494.70,146.43 L495.20,147.84 L495.70,149.24 L496.20,150.62 L496.70,151.97 L497.20,153.29 L497.70,154.57 L498.20,155.81 L498.70,157.00 L499.20,158.13 L499.70,159.21 L500.20,160.22 L500.70,161.16 L501.20,162.04 L501.70,162.84 L502.20,163.56 L502.70,164.20 L503.20,164.76 L503.70,165.23 L504.20,165.61 L504.70,165.91 L505.20,166.11 L505.70,166.23 L506.20,166.25 L506.70,166.18 L507.20,166.01 L507.70,165.76 L508.20,165.41 L508.70,164.98 L509.20,164.46 L509.70,163.86 L510.20,163.17 L510.70,162.41 L511.20,161.57 L511.70,160.65 L512.20,159.67 L512.70,158.62 L513.20,157.51 L513.70,156.35 L514.20,155.14 L514.70,153.87 L515.20,152.57 L515.70,151.24 L516.20,149.87 L516.70,148.48 L517.20,147.07 L517.70,145.64 L518.20,144.21 L518.70,142.78 L519.20,141.36 L519.70,139.94 L520.20,138.55 L520.70,137.17 L521.20,135.83 L521.70,134.51 L522.20,133.24 L522.70,132.01 L523.20,130.83 L523.70,129.70 L524.20,128.64 L524.70,127.64 L525.20,126.70 L525.70,125.84 L526.20,125.05 L526.70,124.34 L527.20,123.71 L527.70,123.16 L528.20,122.71 L528.70,122.34 L529.20,122.05 L529.70,121.86 L530.20,121.77 L530.70,121.76 L531.20,121.84 L531.70,122.02 L532.20,122.29 L532.70,122.64 L533.20,123.09 L533.70,123.62 L534.20,124.24 L534.70,124.94 L535.20,125.71 L535.70,126.57 L536.20,127.49 L536.70,128.48 L537.20,129.54 L537.70,130.66 L538.20,131.83 L538.70,133.05 L539.20,134.32 L539.70,135.63 L540.20,136.97 L540.70,138.34 L541.20,139.73 L541.70,141.15 L542.20,142.57" fill="none" stroke="#3c36c0" stroke-width="1.85"/>
<path d="M54.20,198.40 L54.70,197.09 L55.20,195.78 L55.70,194.49 L56.20,193.21 L56.70,191.95 L57.20,190.72 L57.70,189.52 L58.20,188.36 L58.70,187.24 L59.20,186.17 L59.70,185.14 L60.20,184.17 L60.70,183.26 L61.20,182.42 L61.70,181.63 L62.20,180.92 L62.70,180.28 L63.20,179.72 L63.70,179.23 L64.20,178.82 L64.70,178.49 L65.20,178.25 L65.70,178.09 L66.20,178.01 L66.70,178.01 L67.20,178.10 L67.70,178.28 L68.20,178.54 L68.70,178.88 L69.20,179.30 L69.70,179.80 L70.20,180.37 L70.70,181.02 L71.20,181.75 L71.70,182.54 L72.20,183.40 L72.70,184.32 L73.20,185.29 L73.70,186.32 L74.20,187.41 L74.70,188.53 L75.20,189.70 L75.70,190.90 L76.20,192.14 L76.70,193.40 L77.20,194.68 L77.70,195.98 L78.20,197.29 L78.70,198.60 L79.20,199.91 L79.70,201.21 L80.20,202.50 L80.70,203.78 L81.20,205.03 L81.70,206.26 L82.20,207.45 L82.70,208.61 L83.20,209.72 L83.70,210.79 L84.20,211.81 L84.70,212.77 L85.20,213.67 L85.70,214.51 L86.20,215.28 L86.70,215.98 L87.20,216.61 L87.70,217.16 L88.20,217.64 L88.70,218.03 L89.20,218.35 L89.70,218.58 L90.20,218.73 L90.70,218.80 L91.20,218.78 L91.70,218.67 L92.20,218.49 L92.70,218.22 L93.20,217.87 L93.70,217.43 L94.20,216.92 L94.70,216.33 L95.20,215.67 L95.70,214.94 L96.20,214.14 L96.70,213.27 L97.20,212.34 L97.70,211.36 L98.20,210.32 L98.70,209.23 L99.20,208.09 L99.70,206.92 L100.20,205.71 L100.70,204.47 L101.20,203.21 L101.70,201.92 L102.20,200.63 L102.70,199.32 L103.20,198.01 L103.70,196.70 L104.20,195.39 L104.70,194.10 L105.20,192.83 L105.70,191.58 L106.20,190.36 L106.70,189.17 L107.20,188.02 L107.70,186.91 L108.20,185.85 L108.70,184.85 L109.20,183.89 L109.70,183.00 L110.20,182.17 L110.70,181.41 L111.20,180.72 L111.70,180.10 L112.20,179.56 L112.70,179.10 L113.20,178.71 L113.70,178.41 L114.20,178.19 L114.70,178.05 L115.20,178.00 L115.70,178.03 L116.20,178.15 L116.70,178.35 L117.20,178.63 L117.70,178.99 L118.20,179.44 L118.70,179.96 L119.20,180.56 L119.70,181.23 L120.20,181.98 L120.70,182.79 L121.20,183.67 L121.70,184.60 L122.20,185.60 L122.70,186.64 L123.20,187.74 L123.70,188.88 L124.20,190.06 L124.70,191.27 L125.20,192.52 L125.70,193.78 L126.20,195.07 L126.70,196.37 L127.20,197.68 L127.70,198.99 L128.20,200.30 L128.70,201.60 L129.20,202.89 L129.70,204.16 L130.20,205.40 L130.70,206.62 L131.20,207.80 L131.70,208.95 L132.20,210.05 L132.70,211.10 L133.20,212.10 L133.70,213.04 L134.20,213.93 L134.70,214.74 L135.20,215.50 L135.70,216.18 L136.20,216.78 L136.70,217.31 L137.20,217.76 L137.70,218.14 L138.20,218.43 L138.70,218.64 L139.20,218.76 L139.70,218.80 L140.20,218.76 L140.70,218.63 L141.20,218.42 L141.70,218.12 L142.20,217.74 L142.70,217.29 L143.20,216.75 L143.70,216.14 L144.20,215.46 L144.70,214.71 L145.20,213.88 L145.70,213.00 L146.20,212.05 L146.70,211.05 L147.20,209.99 L147.70,208.89 L148.20,207.75 L148.70,206.56 L149.20,205.34 L149.70,204.10 L150.20,202.83 L150.70,201.54 L151.20,200.23 L151.70,198.92 L152.20,197.61 L152.70,196.30 L153.20,195.00 L153.70,193.72 L154.20,192.45 L154.70,191.21 L155.20,190.00 L155.70,188.82 L156.20,187.68 L156.70,186.59 L157.20,185.55 L157.70,184.55 L158.20,183.62 L158.70,182.75 L159.20,181.94 L159.70,181.20 L160.20,180.53 L160.70,179.93 L161.20,179.41 L161.70,178.97 L162.20,178.61 L162.70,178.34 L163.20,178.14 L163.70,178.03 L164.20,178.00 L164.70,178.06 L165.20,178.20 L165.70,178.42 L166.20,178.73 L166.70,179.12 L167.20,179.59 L167.70,180.13 L168.20,180.75 L168.70,181.45 L169.20,182.21 L169.70,183.05 L170.20,183.94 L170.70,184.89 L171.20,185.91 L171.70,186.97 L172.20,188.08 L172.70,189.23 L173.20,190.42 L173.70,191.64 L174.20,192.89 L174.70,194.17 L175.20,195.46 L175.70,196.76 L176.20,198.07 L176.70,199.38 L177.20,200.69 L177.70,201.99 L178.20,203.27 L178.70,204.54 L179.20,205.77 L179.70,206.98 L180.20,208.15 L180.70,209.28 L181.20,210.37 L181.70,211.41 L182.20,212.39 L182.70,213.31 L183.20,214.18 L183.70,214.98 L184.20,215.71 L184.70,216.37 L185.20,216.95 L185.70,217.46 L186.20,217.88 L186.70,218.23 L187.20,218.50 L187.70,218.68 L188.20,218.78 L188.70,218.80 L189.20,218.73 L189.70,218.57 L190.20,218.34 L190.70,218.02 L191.20,217.62 L191.70,217.14 L192.20,216.58 L192.70,215.95 L193.20,215.24 L193.70,214.47 L194.20,213.62 L194.70,212.72 L195.20,211.76 L195.70,210.74 L196.20,209.67 L196.70,208.55 L197.20,207.39 L197.70,206.20 L198.20,204.97 L198.70,203.72 L199.20,202.44 L199.70,201.15 L200.20,199.84 L200.70,198.53 L201.20,197.22 L201.70,195.91 L202.20,194.62 L202.70,193.34 L203.20,192.08 L203.70,190.84 L204.20,189.64 L204.70,188.48 L205.20,187.35 L205.70,186.27 L206.20,185.24 L206.70,184.27 L207.20,183.35 L207.70,182.50 L208.20,181.71 L208.70,180.99 L209.20,180.34 L209.70,179.77 L210.20,179.27 L210.70,178.86 L211.20,178.52 L211.70,178.27 L212.20,178.10 L212.70,178.01 L213.20,178.01 L213.70,178.09 L214.20,178.26 L214.70,178.51 L215.20,178.84 L215.70,179.25 L216.20,179.74 L216.70,180.31 L217.20,180.96 L217.70,181.67 L218.20,182.46 L218.70,183.31 L219.20,184.22 L219.70,185.19 L220.20,186.22 L220.70,187.30 L221.20,188.42 L221.70,189.58 L222.20,190.78 L222.70,192.02 L223.20,193.27 L223.70,194.55 L224.20,195.85 L224.70,197.15 L225.20,198.47 L225.70,199.78 L226.20,201.08 L226.70,202.38 L227.20,203.65 L227.70,204.91 L228.20,206.14 L228.70,207.34 L229.20,208.50 L229.70,209.61 L230.20,210.69 L230.70,211.71 L231.20,212.67 L231.70,213.58 L232.20,214.43 L232.70,215.20 L233.20,215.91 L233.70,216.55 L234.20,217.11 L234.70,217.59 L235.20,218.00 L235.70,218.32 L236.20,218.56 L236.70,218.72 L237.20,218.79 L237.70,218.78 L238.20,218.69 L238.70,218.51 L239.20,218.25 L239.70,217.90 L240.20,217.48 L240.70,216.98 L241.20,216.40 L241.70,215.74 L242.20,215.02 L242.70,214.22 L243.20,213.36 L243.70,212.44 L244.20,211.46 L244.70,210.42 L245.20,209.34 L245.70,208.21 L246.20,207.04 L246.70,205.83 L247.20,204.60 L247.70,203.34 L248.20,202.05 L248.70,200.76 L249.20,199.45 L249.70,198.14 L250.20,196.83 L250.70,195.52 L251.20,194.23 L251.70,192.96 L252.20,191.70 L252.70,190.48 L253.20,189.29 L253.70,188.13 L254.20,187.02 L254.70,185.96 L255.20,184.94 L255.70,183.99 L256.20,183.09 L256.70,182.25 L257.20,181.49 L257.70,180.79 L258.20,180.16 L258.70,179.61 L259.20,179.14 L259.70,178.75 L260.20,178.44 L260.70,178.21 L261.20,178.06 L261.70,178.00 L262.20,178.03 L262.70,178.13 L263.20,178.32 L263.70,178.60 L264.20,178.95 L264.70,179.39 L265.20,179.91 L265.70,180.50 L266.20,181.16 L266.70,181.90 L267.20,182.70 L267.70,183.57 L268.20,184.51 L268.70,185.49 L269.20,186.54 L269.70,187.63 L270.20,188.76 L270.70,189.94 L271.20,191.15 L271.70,192.39 L272.20,193.66 L272.70,194.94 L273.20,196.24 L273.70,197.55 L274.20,198.86 L274.70,200.17 L275.20,201.47 L275.70,202.76 L276.20,204.03 L276.70,205.28 L277.20,206.50 L277.70,207.69 L278.20,208.84 L278.70,209.94 L279.20,211.00 L279.70,212.00 L280.20,212.95 L280.70,213.84 L281.20,214.67 L281.70,215.42 L282.20,216.11 L282.70,216.72 L283.20,217.26 L283.70,217.72 L284.20,218.10 L284.70,218.40 L285.20,218.62 L285.70,218.75 L286.20,218.80 L286.70,218.76 L287.20,218.64 L287.70,218.44 L288.20,218.15 L288.70,217.79 L289.20,217.34 L289.70,216.81 L290.20,216.21 L290.70,215.53 L291.20,214.78 L291.70,213.97 L292.20,213.09 L292.70,212.15 L293.20,211.15 L293.70,210.10 L294.20,209.00 L294.70,207.86 L295.20,206.68 L295.70,205.47 L296.20,204.22 L296.70,202.95 L297.20,201.67 L297.70,200.36 L298.20,199.06 L298.70,197.74 L299.20,196.44 L299.70,195.13 L300.20,193.85 L300.70,192.58 L301.20,191.33 L301.70,190.12 L302.20,188.94 L302.70,187.80 L303.20,186.70 L303.70,185.65 L304.20,184.65 L304.70,183.71 L305.20,182.83 L305.70,182.02 L306.20,181.27 L306.70,180.59 L307.20,179.99 L307.70,179.46 L308.20,179.01 L308.70,178.65 L309.20,178.36 L309.70,178.16 L310.20,178.04 L310.70,178.00 L311.20,178.05 L311.70,178.18 L312.20,178.40 L312.70,178.70 L313.20,179.08 L313.70,179.54 L314.20,180.08 L314.70,180.69 L315.20,181.38 L315.70,182.13 L316.20,182.96 L316.70,183.85 L317.20,184.80 L317.70,185.80 L318.20,186.86 L318.70,187.96 L319.20,189.11 L319.70,190.30 L320.20,191.52 L320.70,192.77 L321.20,194.04 L321.70,195.33 L322.20,196.63 L322.70,197.94 L323.20,199.25 L323.70,200.56 L324.20,201.86 L324.70,203.14 L325.20,204.41 L325.70,205.65 L326.20,206.86 L326.70,208.04 L327.20,209.17 L327.70,210.26 L328.20,211.31 L328.70,212.29 L329.20,213.23 L329.70,214.10 L330.20,214.90 L330.70,215.64 L331.20,216.30 L331.70,216.89 L332.20,217.41 L332.70,217.85 L333.20,218.20 L333.70,218.48 L334.20,218.67 L334.70,218.77 L335.20,218.80 L335.70,218.74 L336.20,218.59 L336.70,218.36 L337.20,218.05 L337.70,217.66 L338.20,217.19 L338.70,216.64 L339.20,216.01 L339.70,215.31 L340.20,214.55 L340.70,213.71 L341.20,212.81 L341.70,211.86 L342.20,210.84 L342.70,209.78 L343.20,208.67 L343.70,207.51 L344.20,206.32 L344.70,205.10 L345.20,203.84 L345.70,202.57 L346.20,201.28 L346.70,199.97 L347.20,198.66 L347.70,197.35 L348.20,196.04 L348.70,194.75 L349.20,193.46 L349.70,192.20 L350.20,190.97 L350.70,189.76 L351.20,188.59 L351.70,187.46 L352.20,186.38 L352.70,185.34 L353.20,184.36 L353.70,183.44 L354.20,182.58 L354.70,181.78 L355.20,181.06 L355.70,180.40 L356.20,179.82 L356.70,179.32 L357.20,178.90 L357.70,178.55 L358.20,178.29 L358.70,178.11 L359.20,178.02 L359.70,178.01 L360.20,178.08 L360.70,178.24 L361.20,178.48 L361.70,178.80 L362.20,179.21 L362.70,179.69 L363.20,180.25 L363.70,180.89 L364.20,181.60 L364.70,182.37 L365.20,183.22 L365.70,184.13 L366.20,185.09 L366.70,186.11 L367.20,187.19 L367.70,188.30 L368.20,189.46 L368.70,190.66 L369.20,191.89 L369.70,193.15 L370.20,194.42 L370.70,195.72 L371.20,197.02 L371.70,198.33 L372.20,199.65 L372.70,200.95 L373.20,202.25 L373.70,203.53 L374.20,204.78 L374.70,206.02 L375.20,207.22 L375.70,208.38 L376.20,209.50 L376.70,210.58 L377.20,211.61 L377.70,212.58 L378.20,213.49 L378.70,214.34 L379.20,215.13 L379.70,215.84 L380.20,216.49 L380.70,217.06 L381.20,217.55 L381.70,217.96 L382.20,218.29 L382.70,218.54 L383.20,218.71 L383.70,218.79 L384.20,218.79 L384.70,218.70 L385.20,218.53 L385.70,218.28 L386.20,217.94 L386.70,217.53 L387.20,217.03 L387.70,216.46 L388.20,215.81 L388.70,215.09 L389.20,214.30 L389.70,213.45 L390.20,212.53 L390.70,211.56 L391.20,210.53 L391.70,209.45 L392.20,208.32 L392.70,207.16 L393.20,205.96 L393.70,204.72 L394.20,203.46 L394.70,202.18 L395.20,200.89 L395.70,199.58 L396.20,198.27 L396.70,196.96 L397.20,195.65 L397.70,194.36 L398.20,193.08 L398.70,191.83 L399.20,190.60 L399.70,189.41 L400.20,188.25 L400.70,187.13 L401.20,186.06 L401.70,185.04 L402.20,184.08 L402.70,183.18 L403.20,182.33 L403.70,181.56 L404.20,180.85 L404.70,180.22 L405.20,179.66 L405.70,179.18 L406.20,178.78 L406.70,178.46 L407.20,178.23 L407.70,178.07 L408.20,178.00 L408.70,178.02 L409.20,178.12 L409.70,178.30 L410.20,178.57 L410.70,178.92 L411.20,179.34 L411.70,179.85 L412.20,180.43 L412.70,181.09 L413.20,181.82 L413.70,182.62 L414.20,183.49 L414.70,184.41 L415.20,185.39 L415.70,186.43 L416.20,187.52 L416.70,188.65 L417.20,189.82 L417.70,191.03 L418.20,192.26 L418.70,193.53 L419.20,194.81 L419.70,196.11 L420.20,197.42 L420.70,198.73 L421.20,200.04 L421.70,201.34 L422.20,202.63 L422.70,203.91 L423.20,205.16 L423.70,206.38 L424.20,207.57 L424.70,208.72 L425.20,209.83 L425.70,210.89 L426.20,211.91 L426.70,212.86 L427.20,213.75 L427.70,214.59 L428.20,215.35 L428.70,216.05 L429.20,216.67 L429.70,217.21 L430.20,217.68 L430.70,218.07 L431.20,218.38 L431.70,218.60 L432.20,218.74 L432.70,218.80 L433.20,218.77 L433.70,218.66 L434.20,218.46 L434.70,218.19 L435.20,217.83 L435.70,217.39 L436.20,216.87 L436.70,216.27 L437.20,215.60 L437.70,214.86 L438.20,214.05 L438.70,213.18 L439.20,212.25 L439.70,211.25 L440.20,210.21 L440.70,209.12 L441.20,207.98 L441.70,206.80 L442.20,205.59 L442.70,204.35 L443.20,203.08 L443.70,201.80 L444.20,200.50 L444.70,199.19 L445.20,197.88 L445.70,196.57 L446.20,195.26 L446.70,193.97 L447.20,192.70 L447.70,191.46 L448.20,190.24 L448.70,189.05 L449.20,187.91 L449.70,186.81 L450.20,185.75 L450.70,184.75 L451.20,183.80 L451.70,182.92 L452.20,182.09 L452.70,181.34 L453.20,180.66 L453.70,180.05 L454.20,179.51 L454.70,179.06 L455.20,178.68 L455.70,178.38 L456.20,178.17 L456.70,178.04 L457.20,178.00 L457.70,178.04 L458.20,178.16 L458.70,178.37 L459.20,178.66 L459.70,179.04 L460.20,179.49 L460.70,180.02 L461.20,180.62 L461.70,181.30 L462.20,182.06 L462.70,182.87 L463.20,183.76 L463.70,184.70 L464.20,185.70 L464.70,186.75 L465.20,187.85 L465.70,189.00 L466.20,190.18 L466.70,191.40 L467.20,192.64 L467.70,193.91 L468.20,195.20 L468.70,196.50 L469.20,197.81 L469.70,199.12 L470.20,200.43 L470.70,201.73 L471.20,203.02 L471.70,204.28 L472.20,205.53 L472.70,206.74 L473.20,207.92 L473.70,209.06 L474.20,210.16 L474.70,211.20 L475.20,212.20 L475.70,213.13 L476.20,214.01 L476.70,214.82 L477.20,215.57 L477.70,216.24 L478.20,216.84 L478.70,217.36 L479.20,217.81 L479.70,218.17 L480.20,218.45 L480.70,218.65 L481.20,218.77 L481.70,218.80 L482.20,218.75 L482.70,218.61 L483.20,218.39 L483.70,218.09 L484.20,217.70 L484.70,217.24 L485.20,216.70 L485.70,216.08 L486.20,215.39 L486.70,214.63 L487.20,213.80 L487.70,212.91 L488.20,211.95 L488.70,210.95 L489.20,209.89 L489.70,208.78 L490.20,207.63 L490.70,206.44 L491.20,205.22 L491.70,203.97 L492.20,202.70 L492.70,201.41 L493.20,200.10 L493.70,198.79 L494.20,197.48 L494.70,196.17 L495.20,194.88 L495.70,193.59 L496.20,192.33 L496.70,191.09 L497.20,189.88 L497.70,188.71 L498.20,187.57 L498.70,186.48 L499.20,185.44 L499.70,184.46 L500.20,183.53 L500.70,182.66 L501.20,181.86 L501.70,181.13 L502.20,180.47 L502.70,179.88 L503.20,179.37 L503.70,178.93 L504.20,178.58 L504.70,178.31 L505.20,178.13 L505.70,178.02 L506.20,178.00 L506.70,178.07 L507.20,178.22 L507.70,178.45 L508.20,178.77 L508.70,179.16 L509.20,179.64 L509.70,180.19 L510.20,180.82 L510.70,181.52 L511.20,182.29 L511.70,183.13 L512.20,184.03 L512.70,184.99 L513.20,186.01 L513.70,187.08 L514.20,188.19 L514.70,189.35 L515.20,190.54 L515.70,191.77 L516.20,193.02 L516.70,194.30 L517.20,195.59 L517.70,196.89 L518.20,198.20 L518.70,199.51 L519.20,200.82 L519.70,202.12 L520.20,203.40 L520.70,204.66 L521.20,205.90 L521.70,207.10 L522.20,208.27 L522.70,209.39 L523.20,210.48 L523.70,211.51 L524.20,212.48 L524.70,213.40 L525.20,214.26 L525.70,215.05 L526.20,215.78 L526.70,216.43 L527.20,217.00 L527.70,217.50 L528.20,217.92 L528.70,218.26 L529.20,218.52 L529.70,218.70 L530.20,218.79 L530.70,218.79 L531.20,218.71 L531.70,218.55 L532.20,218.31 L532.70,217.98 L533.20,217.57 L533.70,217.08 L534.20,216.52 L534.70,215.88 L535.20,215.17 L535.70,214.38 L536.20,213.54 L536.70,212.63 L537.20,211.66 L537.70,210.63 L538.20,209.56 L538.70,208.44 L539.20,207.28 L539.70,206.08 L540.20,204.85 L540.70,203.59 L541.20,202.31 L541.70,201.02 L542.20,199.71" fill="none" stroke="#da2230" stroke-width="2.05"/>
<line x1="53.5" y1="253" x2="542.5" y2="253" stroke="#36bda1" stroke-width="2"/>
<text id="h0" class="t" x="18.15" y="16.27">2.0mV</text>
<text id="h1" class="t" x="18.05" y="34.35">0.4mV</text>
<text id="h2" class="t" x="16.43" y="60.35">-2.0mV</text>
<text id="h3" class="t" x="15.18" y="69.75">501.0mV</text>
<text id="h4" class="t" x="15.25" y="88.55">500.2mV</text>
<text id="h5" class="t" x="14.87" y="115.97">499.0mV</text>
<text id="h6" class="t" x="15.00" y="124.07">501.0mV</text>
<text id="h7" class="t" x="15.00" y="143.10">500.2mV</text>
<text id="h8" class="t" x="15.00" y="169.57">499.0mV</text>
<text id="h9" class="t" x="17.70" y="177.58">500mV</text>
<text id="h10" class="t" x="17.77" y="206.30">476mV</text>
<text id="h11" class="t" x="18.27" y="225.38">460mV</text>
<text id="h12" class="t" x="19.22" y="232.58">1.2mA</text>
<text id="h13" class="t" x="19.50" y="256.57">0.1mA</text>
<text id="h14" class="t" x="19.25" y="279.87">-1.0mA</text>
<text id="h15" class="t" x="43.35" y="288.37">0ms</text>
<text id="h16" class="t" x="92.88" y="288.37">1ms</text>
<text id="h17" class="t" x="141.50" y="288.37">2ms</text>
<text id="h18" class="t" x="190.35" y="288.37">3ms</text>
<text id="h19" class="t" x="239.30" y="288.37">4ms</text>
<text id="h20" class="t" x="287.30" y="288.37">5ms</text>
<text id="h21" class="t" x="337.40" y="288.37">6ms</text>
<text id="h22" class="t" x="386.25" y="288.37">7ms</text>
<text id="h23" class="t" x="435.58" y="288.37">8ms</text>
<text id="h24" class="t" x="484.30" y="288.37">9ms</text>
<text id="h25" class="t" x="526.07" y="288.43">10ms</text>
<text id="h26" class="t" x="281.90" y="299.50">Time</text>
<text id="r0" class="t r" text-anchor="middle" transform="translate(11.20,34.45) rotate(-90) scale(0.935,1)">V(n002)−V(n003)</text>
<text id="r1" class="t r" text-anchor="middle" transform="translate(9.90,88.75) rotate(-90) scale(0.935,1)">V(n002)</text>
<text id="r2" class="t r" text-anchor="middle" transform="translate(9.50,140.98) rotate(-90) scale(0.935,1)">V(n003)</text>
<text id="r3" class="t r" text-anchor="middle" transform="translate(9.70,195.60) rotate(-90) scale(0.935,1)">V(out)</text>
<text id="r4" class="t r" text-anchor="middle" transform="translate(9.80,253.08) rotate(-90) scale(0.935,1)">I(I1)</text>
</g>
</svg>
</body></html>
